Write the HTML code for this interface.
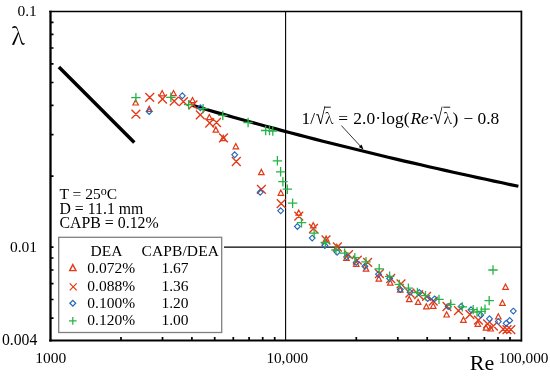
<!DOCTYPE html>
<html><head><meta charset="utf-8"><title>Friction factor vs Reynolds number</title>
<style>html,body{margin:0;padding:0;background:#fff;overflow:hidden}</style></head>
<body>
<svg width="550" height="376" viewBox="0 0 550 376" style="display:block">
<rect width="550" height="376" fill="#fff"/>
<line x1="285.6" y1="11" x2="285.6" y2="341" stroke="#000" stroke-width="1.1"/>
<line x1="224" y1="247.2" x2="522" y2="247.2" stroke="#000" stroke-width="1.2"/>
<line x1="49.2" y1="11.5" x2="522.1" y2="11.5" stroke="#000" stroke-width="1.6"/>
<line x1="521.4" y1="10.7" x2="521.4" y2="341.6" stroke="#000" stroke-width="1.7"/>
<line x1="50.5" y1="10.7" x2="50.5" y2="341.6" stroke="#000" stroke-width="2.3"/>
<line x1="49.2" y1="340.6" x2="522.1" y2="340.6" stroke="#000" stroke-width="2"/>
<path d="M51 22.3h2.5M51 34.3h2.5M51 48.0h2.5M51 63.8h2.5M51 82.5h2.5M51 105.3h2.5M51 134.7h2.5M51 176.2h2.5M51 247.2h2.5M51 258.0h2.5M51 270.0h2.5M51 283.7h2.5M51 299.5h2.5M51 318.2h2.5M121.0 340v-2.9M162.5 340v-2.9M191.9 340v-2.9M214.7 340v-2.9M233.3 340v-2.9M249.1 340v-2.9M262.7 340v-2.9M274.7 340v-2.9M356.3 340v-2.9M397.8 340v-2.9M427.2 340v-2.9M450.0 340v-2.9M468.6 340v-2.9M484.4 340v-2.9M498.0 340v-2.9M510.0 340v-2.9" stroke="#000" stroke-width="1.7" fill="none"/>
<line x1="58.9" y1="66.9" x2="134.3" y2="142.4" stroke="#000" stroke-width="3.5"/>
<polyline points="192.6,105.4 200.8,107.8 208.9,110.2 217.1,112.6 225.2,114.9 233.4,117.2 241.5,119.5 249.6,121.7 257.8,124.0 265.9,126.2 274.1,128.4 282.2,130.6 290.4,132.7 298.5,134.9 306.7,137.0 314.8,139.1 322.9,141.2 331.1,143.2 339.2,145.3 347.4,147.3 355.5,149.3 363.7,151.3 371.8,153.3 380.0,155.3 388.1,157.2 396.2,159.1 404.4,161.1 412.5,162.9 420.7,164.8 428.8,166.7 437.0,168.5 445.1,170.4 453.3,172.2 461.4,174.0 469.6,175.8 477.7,177.6 485.8,179.3 494.0,181.1 502.1,182.8 510.3,184.6 518.4,186.3" stroke="#000" stroke-width="3.2" fill="none"/>
<g fill="none" stroke-width="1.25">
<path stroke="#e23a18" stroke-width="1.2" d="M135.6 99.8l2.8 5.2h-5.5zM149.2 106.2l2.8 5.2h-5.5zM162.1 90.6l2.8 5.2h-5.5zM173.5 90.5l2.8 5.2h-5.5zM192.5 97.5l2.8 5.2h-5.5zM209.3 114.5l2.8 5.2h-5.5zM215.8 126.9l2.8 5.2h-5.5zM223.2 135.4l2.8 5.2h-5.5zM235.8 143.6l2.8 5.2h-5.5zM261.3 169.4l2.8 5.2h-5.5zM280.8 190.1l2.8 5.2h-5.5zM298.7 210.0l2.8 5.2h-5.5zM313.2 222.6l2.8 5.2h-5.5zM326.1 236.0l2.8 5.2h-5.5zM336.8 244.4l2.8 5.2h-5.5zM346.4 255.1l2.8 5.2h-5.5zM356.2 261.1l2.8 5.2h-5.5zM366.0 265.9l2.8 5.2h-5.5zM378.8 275.9l2.8 5.2h-5.5zM390.2 279.9l2.8 5.2h-5.5zM400.2 286.9l2.8 5.2h-5.5zM409.2 296.4l2.8 5.2h-5.5zM418.1 299.2l2.8 5.2h-5.5zM426.3 303.7l2.8 5.2h-5.5zM433.2 303.1l2.8 5.2h-5.5zM446.6 311.8l2.8 5.2h-5.5zM463.4 317.1l2.8 5.2h-5.5zM477.8 321.1l2.8 5.2h-5.5zM486.0 324.9l2.8 5.2h-5.5zM490.6 325.8l2.8 5.2h-5.5zM498.3 313.8l2.8 5.2h-5.5zM502.4 300.1l2.8 5.2h-5.5zM505.5 284.1l2.8 5.2h-5.5z"/>
<path stroke="#e23a18" stroke-width="1.35" d="M131.5 109.8l8.8 8.8m0 -8.8l-8.8 8.8M145.3 92.9l8.8 8.8m0 -8.8l-8.8 8.8M158.1 94.6l8.8 8.8m0 -8.8l-8.8 8.8M169.8 96.8l8.8 8.8m0 -8.8l-8.8 8.8M179.0 97.2l8.8 8.8m0 -8.8l-8.8 8.8M188.6 100.4l8.8 8.8m0 -8.8l-8.8 8.8M195.9 110.5l8.8 8.8m0 -8.8l-8.8 8.8M205.3 118.6l8.8 8.8m0 -8.8l-8.8 8.8M212.1 118.1l8.8 8.8m0 -8.8l-8.8 8.8M219.1 133.4l8.8 8.8m0 -8.8l-8.8 8.8M231.9 157.1l8.8 8.8m0 -8.8l-8.8 8.8M257.0 184.9l8.8 8.8m0 -8.8l-8.8 8.8M276.8 199.3l8.8 8.8m0 -8.8l-8.8 8.8M294.4 211.7l8.8 8.8m0 -8.8l-8.8 8.8M309.1 224.1l8.8 8.8m0 -8.8l-8.8 8.8M321.6 235.6l8.8 8.8m0 -8.8l-8.8 8.8M333.0 242.6l8.8 8.8m0 -8.8l-8.8 8.8M344.1 250.3l8.8 8.8m0 -8.8l-8.8 8.8M352.9 255.8l8.8 8.8m0 -8.8l-8.8 8.8M363.2 258.0l8.8 8.8m0 -8.8l-8.8 8.8M375.0 269.2l8.8 8.8m0 -8.8l-8.8 8.8M386.3 274.1l8.8 8.8m0 -8.8l-8.8 8.8M396.6 279.4l8.8 8.8m0 -8.8l-8.8 8.8M405.5 288.8l8.8 8.8m0 -8.8l-8.8 8.8M414.1 290.2l8.8 8.8m0 -8.8l-8.8 8.8M422.2 291.9l8.8 8.8m0 -8.8l-8.8 8.8M428.8 296.8l8.8 8.8m0 -8.8l-8.8 8.8M442.6 302.1l8.8 8.8m0 -8.8l-8.8 8.8M454.1 306.3l8.8 8.8m0 -8.8l-8.8 8.8M465.5 310.1l8.8 8.8m0 -8.8l-8.8 8.8M474.0 315.8l8.8 8.8m0 -8.8l-8.8 8.8M483.2 319.4l8.8 8.8m0 -8.8l-8.8 8.8M489.0 321.6l8.8 8.8m0 -8.8l-8.8 8.8M498.8 324.7l8.8 8.8m0 -8.8l-8.8 8.8M502.6 325.3l8.8 8.8m0 -8.8l-8.8 8.8M506.4 325.2l8.8 8.8m0 -8.8l-8.8 8.8"/>
<path stroke="#2566bb" stroke-width="1.1" d="M149.2 108.6l2.9 2.9l-2.9 2.9l-2.9 -2.9zM182.3 92.9l2.9 2.9l-2.9 2.9l-2.9 -2.9zM200.4 104.9l2.9 2.9l-2.9 2.9l-2.9 -2.9zM234.7 151.9l2.9 2.9l-2.9 2.9l-2.9 -2.9zM260.2 189.4l2.9 2.9l-2.9 2.9l-2.9 -2.9zM280.7 207.9l2.9 2.9l-2.9 2.9l-2.9 -2.9zM297.4 223.6l2.9 2.9l-2.9 2.9l-2.9 -2.9zM312.2 235.2l2.9 2.9l-2.9 2.9l-2.9 -2.9zM324.9 242.6l2.9 2.9l-2.9 2.9l-2.9 -2.9zM337.1 249.3l2.9 2.9l-2.9 2.9l-2.9 -2.9zM346.6 254.0l2.9 2.9l-2.9 2.9l-2.9 -2.9zM356.2 259.5l2.9 2.9l-2.9 2.9l-2.9 -2.9zM364.9 263.3l2.9 2.9l-2.9 2.9l-2.9 -2.9zM378.5 271.3l2.9 2.9l-2.9 2.9l-2.9 -2.9zM389.6 275.6l2.9 2.9l-2.9 2.9l-2.9 -2.9zM400.3 286.6l2.9 2.9l-2.9 2.9l-2.9 -2.9zM410.0 289.3l2.9 2.9l-2.9 2.9l-2.9 -2.9zM419.3 289.6l2.9 2.9l-2.9 2.9l-2.9 -2.9zM427.7 295.6l2.9 2.9l-2.9 2.9l-2.9 -2.9zM434.5 296.0l2.9 2.9l-2.9 2.9l-2.9 -2.9zM448.2 303.6l2.9 2.9l-2.9 2.9l-2.9 -2.9zM461.2 303.5l2.9 2.9l-2.9 2.9l-2.9 -2.9zM471.0 306.9l2.9 2.9l-2.9 2.9l-2.9 -2.9zM480.8 312.1l2.9 2.9l-2.9 2.9l-2.9 -2.9zM489.5 315.9l2.9 2.9l-2.9 2.9l-2.9 -2.9zM498.3 318.7l2.9 2.9l-2.9 2.9l-2.9 -2.9zM506.2 320.4l2.9 2.9l-2.9 2.9l-2.9 -2.9zM509.7 317.6l2.9 2.9l-2.9 2.9l-2.9 -2.9zM513.3 308.2l2.9 2.9l-2.9 2.9l-2.9 -2.9z"/>
<path stroke="#25b445" stroke-width="1.3" d="M131.2 97.7h9.4M135.9 93.0v9.4M166.2 97.3h9.4M170.9 92.6v9.4M183.9 104.7h9.4M188.6 100.0v9.4M198.4 108.6h9.4M203.1 103.9v9.4M218.1 115.4h9.4M222.8 110.7v9.4M243.4 122.5h9.4M248.1 117.8v9.4M261.0 130.5h9.4M265.7 125.8v9.4M264.8 130.5h9.4M269.5 125.8v9.4M268.1 131.0h9.4M272.8 126.3v9.4M272.7 160.8h9.4M277.4 156.1v9.4M275.9 171.8h9.4M280.6 167.1v9.4M278.2 181.7h9.4M282.9 177.0v9.4M282.6 189.2h9.4M287.3 184.5v9.4M287.9 203.2h9.4M292.6 198.5v9.4M296.8 222.7h9.4M301.5 218.0v9.4M309.4 233.1h9.4M314.1 228.4v9.4M320.6 242.5h9.4M325.3 237.8v9.4M331.3 250.0h9.4M336.0 245.3v9.4M339.9 253.2h9.4M344.6 248.5v9.4M350.1 257.7h9.4M354.8 253.0v9.4M361.3 261.8h9.4M366.0 257.1v9.4M374.5 268.8h9.4M379.2 264.1v9.4M384.9 276.3h9.4M389.6 271.6v9.4M394.7 284.4h9.4M399.4 279.7v9.4M403.7 288.2h9.4M408.4 283.5v9.4M412.7 292.5h9.4M417.4 287.8v9.4M420.8 295.7h9.4M425.5 291.0v9.4M434.3 299.4h9.4M439.0 294.7v9.4M446.0 304.3h9.4M450.7 299.6v9.4M457.6 306.9h9.4M462.3 302.2v9.4M468.5 309.6h9.4M473.2 304.9v9.4M472.3 312.0h9.4M477.0 307.3v9.4M476.7 311.3h9.4M481.4 306.6v9.4M480.3 309.2h9.4M485.0 304.5v9.4M484.5 300.6h9.4M489.2 295.9v9.4M488.3 270.0h9.4M493.0 265.3v9.4"/>
</g>
<rect x="58.7" y="237.3" width="163" height="95.2" fill="#fff" stroke="#808080" stroke-width="1.3"/>
<g fill="none" stroke-width="1.25">
<path stroke="#e23a18" d="M72.8 264.6l3.2 6.0h-6.3z" stroke-width="1.4"/>
<path stroke="#e23a18" d="M69.7 283.4l7.0 7.0m0 -7.0l-7.0 7.0"/>
<path stroke="#2566bb" d="M72.8 300.4l2.9 2.9l-2.9 2.9l-2.9 -2.9z"/>
<path stroke="#25b445" d="M69.0 320.9h7.6M72.8 317.1v7.6"/>
</g>
<g font-family="'Liberation Serif', serif" fill="#000">
<text x="17.4" y="15.6" font-size="15.5">0.1</text>
<text x="11.6" y="44.6" font-size="23" font-family="'Noto Serif CJK SC', 'Liberation Serif', serif">λ</text>
<text x="9.9" y="251.7" font-size="15.5">0.01</text>
<text x="2" y="345.3" font-size="15.7">0.004</text>
<text x="35.3" y="362.7" font-size="15.5">1000</text>
<text x="266.4" y="362.6" font-size="15.2">10,000</text>
<text x="498.8" y="363" font-size="15.3">100,000</text>
<text x="469.8" y="370.3" font-size="22">Re</text>
<g font-size="15.5">
<text x="59.5" y="198.5" font-size="15.5">T = 25<tspan font-size="12" dy="-3.4">o</tspan><tspan dy="3.4">C</tspan></text>
<text x="59.5" y="213.9" font-size="15.8">D = 11.1 mm</text>
<text x="59.5" y="228.2" font-size="15.85">CAPB = 0.12%</text>
<text x="90.5" y="255.9">DEA</text>
<text x="141.6" y="255.9" textLength="77.3" lengthAdjust="spacing">CAPB/DEA</text>
<text x="87.3" y="273.2">0.072%</text><text x="161.4" y="273.2">1.67</text>
<text x="87.3" y="290.6">0.088%</text><text x="161.4" y="290.6">1.36</text>
<text x="87.3" y="308.0">0.100%</text><text x="161.4" y="308.0">1.20</text>
<text x="87.3" y="325.4">0.120%</text><text x="161.4" y="325.4">1.00</text>
</g>
<path d="M324 107.2h6.8M443.4 107.2h6.8" stroke="#000" stroke-width="0.9" fill="none"/>
<path d="M341.4 125.6L363 149" stroke="#000" stroke-width="0.8" fill="none"/>
<path d="M363.4 149.4l-4.6 -2.4 2.8 -2.6z" fill="#000"/>
<g font-size="17.4">
<text x="301.6" y="123.5">1/</text>
<text transform="translate(315.8 123.9) scale(1 1.25)">√</text>
<text x="325.0" y="123.5" font-family="'Noto Serif CJK SC', 'Liberation Serif', serif" font-size="14.6">λ</text>
<text x="338.2" y="123.5">=</text>
<text x="353.3" y="123.5" textLength="56.3" lengthAdjust="spacing">2.0·log(</text>
<text x="410.5" y="123.5" font-style="italic">Re</text>
<text x="428.6" y="123.5">·</text>
<text transform="translate(433.0 123.9) scale(1 1.25)">√</text>
<text x="443.5" y="123.5" font-family="'Noto Serif CJK SC', 'Liberation Serif', serif" font-size="14.6">λ</text>
<text x="452.5" y="123.5">)</text>
<text x="463.5" y="123.5">−</text>
<text x="477.5" y="123.5">0.8</text>
</g>
</g>
</svg>
</body></html>
